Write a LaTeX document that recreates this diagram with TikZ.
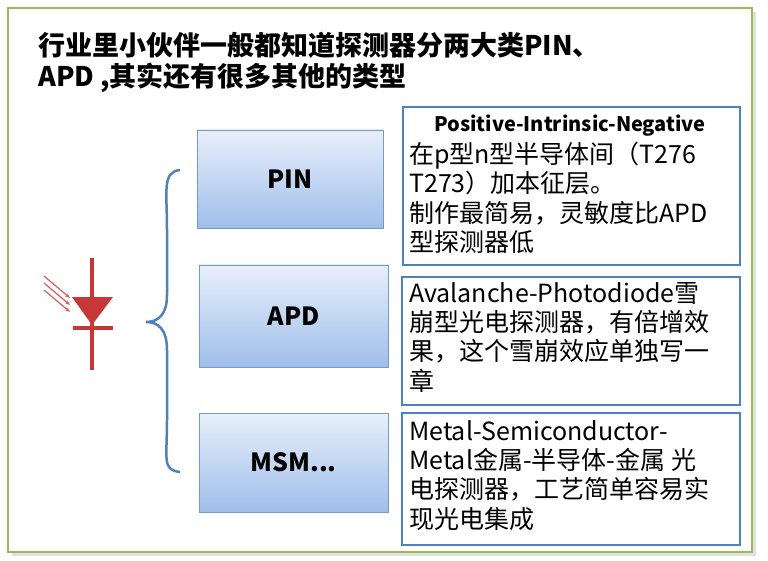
\documentclass[tikz,border=0pt]{standalone}
\usepackage{fontspec}
\setmainfont{Noto Sans CJK SC}
\usetikzlibrary{arrows.meta}
\definecolor{frameg}{RGB}{155,187,89}
\definecolor{bblue}{RGB}{79,129,189}
\definecolor{topb}{RGB}{232,239,250}
\definecolor{botb}{RGB}{160,190,235}
\definecolor{dred}{RGB}{200,55,55}
\tikzset{
 catbox/.style={draw=bblue!80, line width=0.8pt, top color=topb, bottom color=botb, font=\fontsize{25pt}{30pt}\selectfont\bfseries},
 descbox/.style={draw=bblue, line width=1.2pt, fill=white},
 desc/.style={anchor=north west, align=left, font=\fontsize{25pt}{29.3pt}\selectfont, inner sep=0pt},
 ttl/.style={anchor=west, inner sep=0pt, font=\fontsize{27pt}{30pt}\selectfont\bfseries},
}
\begin{document}
\begin{tikzpicture}[x=1pt,y=-1pt]
\useasboundingbox (0,0) rectangle (768,561);
\fill[black!12] (12,12) rectangle (756,556);
\draw[frameg, line width=2pt, fill=white] (8,8) rectangle (752,552);
\node[ttl] (t1) at (38,45) {行业里小伙伴一般都知道探测器分两大类PIN、};
\node[ttl] (t2) at (38,78) {APD ,其实还有很多其他的类型};
% diode
\draw[dred, line width=4pt] (92,258) -- (92,370);
\fill[dred] (72,297) -- (113,297) -- (92,325) -- cycle;
\draw[dred, line width=4pt] (73,328) -- (113,328);
\foreach \d in {0,7,14}{
 \draw[dred!80, line width=1.2pt, -{Stealth[length=5pt]}] (44,276+\d) -- (70,298+\d);}
% brace
\draw[bblue, line width=2.5pt] (180,170) .. controls (162,172) and (167,190) .. (167,230) -- (167,295) .. controls (167,315) and (158,322) .. (146,322) .. controls (158,322) and (167,329) .. (167,350) -- (167,420) .. controls (167,460) and (162,470) .. (180,472);
% category boxes
\node[catbox, minimum width=186pt, minimum height=98pt] (pin) at (290,179) {PIN};
\node[catbox, minimum width=189pt, minimum height=102pt] (apd) at (293.5,316) {APD};
\node[catbox, minimum width=189pt, minimum height=99pt] (msm) at (293.5,462.5) {MSM...};
% description boxes
\draw[descbox] (403,107) rectangle (740,265);
\draw[descbox] (402,277) rectangle (740,405);
\draw[descbox] (402,413) rectangle (740,545);
\node[anchor=center, inner sep=0pt, font=\fontsize{20pt}{24pt}\selectfont\bfseries] (d1a) at (570,126) {Positive-Intrinsic-Negative};
\node[desc] (d1) at (409,142) {在p型n型半导体间（T276\\T273）加本征层。\\制作最简易，灵敏度比APD\\型探测器低};
\node[desc] (d2) at (409,282) {Avalanche-Photodiode雪\\崩型光电探测器，有倍增效\\果，这个雪崩效应单独写一\\章};
\node[desc] (d3) at (409,420) {Metal-Semiconductor-\\Metal金属-半导体-金属 光\\电探测器，工艺简单容易实\\现光电集成};
\end{tikzpicture}
\end{document}
